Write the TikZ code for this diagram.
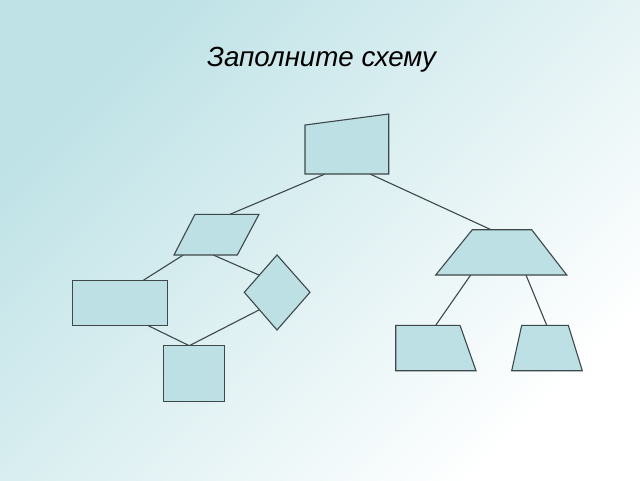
\documentclass[tikz,border=0pt]{standalone}
\usepackage{fontspec}
\setmainfont{Liberation Sans}
\begin{document}
\begin{tikzpicture}[x=1pt,y=-1pt,
  shp/.style={draw=edgec, fill=fillc, line width=1.1pt, line join=miter},
  conn/.style={draw=edgec, line width=1.1pt}]
\definecolor{edgec}{RGB}{62,72,74}
\definecolor{fillc}{RGB}{188,224,228}
\definecolor{bgA}{RGB}{190,226,230}
\definecolor{bgB}{RGB}{255,255,255}
\useasboundingbox (0,0) rectangle (640,480);
\shade[shading=axis, top color=bgA, bottom color=bgB, shading angle=45] (0,0) rectangle (640,480);
\node[anchor=base, inner sep=0pt, font=\fontsize{27.7}{33}\selectfont\itshape] (title) at (321.5,66.7) {Заполните схему};
% connection points
\coordinate (t1) at (325,174);
\coordinate (t2) at (370,174);
\coordinate (p1) at (230,214.3);
\coordinate (p2) at (183.3,255);
\coordinate (p3) at (213.3,255);
\coordinate (r1) at (143.3,280.3);
\coordinate (r2) at (148.3,325.7);
\coordinate (d1) at (259.3,275.2);
\coordinate (d2) at (259.3,309.8);
\coordinate (s1) at (189.3,345.7);
\coordinate (z1) at (491,229.7);
\coordinate (z2) at (470.7,275);
\coordinate (z3) at (526,275);
\coordinate (a1) at (435.7,325.3);
\coordinate (b1) at (546.7,325.3);
% connectors
\draw[conn] (t1) -- (p1);
\draw[conn] (t2) -- (z1);
\draw[conn] (p2) -- (r1);
\draw[conn] (p3) -- (d1);
\draw[conn] (r2) -- (s1);
\draw[conn] (d2) -- (s1);
\draw[conn] (z2) -- (a1);
\draw[conn] (z3) -- (b1);
% shapes
\draw[shp] (305,125) -- (388.7,114) -- (388.7,174) -- (305,174) -- cycle;
\draw[shp] (195,214.3) -- (259,214.3) -- (237.3,255) -- (174,255) -- cycle;
\draw[shp] (72.7,280.3) rectangle (167.3,325.7);
\draw[shp] (277,255) -- (310,292.3) -- (277,330) -- (244.3,292.3) -- cycle;
\draw[shp] (163.3,345.7) rectangle (224.3,401.7);
\draw[shp] (472.3,229.7) -- (531.7,229.7) -- (566.7,275) -- (435.7,275) -- cycle;
\draw[shp] (395.7,325.3) -- (460,325.3) -- (476,370.7) -- (395.7,370.7) -- cycle;
\draw[shp] (521.7,325.3) -- (568.3,325.3) -- (582.3,370.7) -- (511.7,370.7) -- cycle;
\end{tikzpicture}
\end{document}
